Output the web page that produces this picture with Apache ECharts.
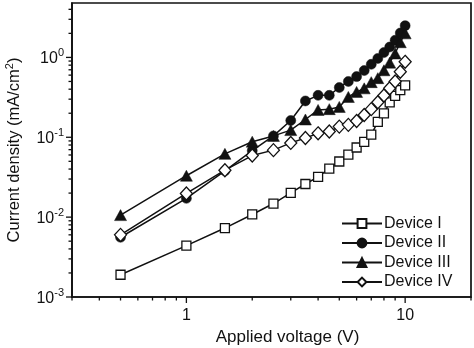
<!DOCTYPE html>
<html><head><meta charset="utf-8">
<script src="https://cdn.jsdelivr.net/npm/echarts@6/dist/echarts.min.js"></script>
<style>html,body{margin:0;padding:0;background:#fff}#c{width:474px;height:348px}</style>
</head><body><div id="c"></div>
<script>
const voltages = [0.5,1,1.5,2,2.5,3,3.5,4,4.5,5,5.5,6,6.5,7,7.5,8,8.5,9,9.5,10];
const deviceI   = [0.0019,0.0044,0.0073,0.0108,0.0148,0.0201,0.026,0.032,0.0406,0.0497,0.0608,0.0745,0.0875,0.108,0.156,0.199,0.273,0.33,0.389,0.446];
const deviceII  = [0.0056,0.0172,0.038,0.068,0.104,0.162,0.285,0.335,0.335,0.42,0.5,0.575,0.685,0.82,0.97,1.15,1.35,1.64,2.02,2.5];
const deviceIII = [0.0106,0.033,0.062,0.088,0.104,0.123,0.167,0.22,0.225,0.24,0.32,0.37,0.41,0.49,0.55,0.69,0.86,1.12,1.55,2.0];
const deviceIV  = [0.006,0.0198,0.0387,0.059,0.069,0.085,0.098,0.112,0.118,0.136,0.143,0.16,0.19,0.225,0.275,0.333,0.41,0.5,0.66,0.88];
const seriesNames = ['Device I','Device II','Device III','Device IV'];
const xTickValues = [0.3,0.4,0.5,0.6,0.7,0.8,0.9,1,2,3,4,5,6,7,8,9,10,20];
const yTickValues = [0.001,0.002,0.003,0.004,0.005,0.006,0.007,0.008,0.009,0.01,0.02,0.03,0.04,0.05,0.06,0.07,0.08,0.09,0.1,0.2,0.3,0.4,0.5,0.6,0.7,0.8,0.9,1,2,3,4];
const X_MIN = 0.3, X_MAX = 20, Y_MIN = 0.001, Y_MAX = 4.8;

const FONT = 'Liberation Sans, Arial, sans-serif';
const INK = '#111';
function isPow10(v){ const l = Math.log10(v); return Math.abs(l - Math.round(l)) < 1e-6; }

const chart = echarts.init(document.getElementById('c'), null, {renderer:'canvas'});
function pts(arr){ return voltages.map((v,i)=>[v, arr[i]]); }

const lineBase = {type:'line', showAllSymbol:true, lineStyle:{color:INK, width:1.5}, z:3};
const option = {
  animation:false,
  backgroundColor:'#fff',
  grid:{left:72, right:3, top:3, bottom:51, containLabel:false, outerBoundsMode:'none',
    show:true, borderColor:'#111', borderWidth:1.7, backgroundColor:'transparent'},
  legend:{
    data:seriesNames, orient:'vertical', left:336, top:210,
    itemWidth:40, itemHeight:11, itemGap:2.5,
    textStyle:{fontFamily:FONT, fontSize:16, color:INK, lineHeight:17, padding:[0,0,0,-3]}
  },
  xAxis:{
    type:'log', min:X_MIN, max:X_MAX, logBase:10,
    axisLine:{show:true, lineStyle:{color:'#111', width:1.7}},
    axisTick:{show:false}, splitLine:{show:false}, minorTick:{show:false},
    axisLabel:{margin:11, fontFamily:FONT, fontSize:16, color:INK,
      formatter:v=> isPow10(v) ? String(Math.round(v)) : ''},
    name:'Applied voltage (V)', nameLocation:'middle', nameGap:32,
    nameTextStyle:{fontFamily:FONT, fontSize:17, color:INK, padding:[0,0,0,32]}
  },
  yAxis:{
    type:'log', min:Y_MIN, max:Y_MAX, logBase:10,
    axisLine:{show:true, lineStyle:{color:'#111', width:1.7}},
    axisTick:{show:false}, splitLine:{show:false}, minorTick:{show:false},
    axisLabel:{margin:8, fontFamily:FONT, color:INK,
      formatter:v=> isPow10(v) ? '{b|10}{s|' + Math.round(Math.log10(v)) + '}' : '',
      rich:{b:{fontFamily:FONT, fontSize:16, color:INK, lineHeight:19, verticalAlign:'bottom'},
            s:{fontFamily:FONT, fontSize:11, color:INK, verticalAlign:'top', lineHeight:19}}},
    name:'{n|Current density (mA/cm}{s|2}{n|)}', nameLocation:'middle', nameGap:49,
    nameTextStyle:{rich:{n:{fontFamily:FONT, fontSize:16.5, color:INK, lineHeight:19, verticalAlign:'bottom'},
                         s:{fontFamily:FONT, fontSize:11, color:INK, verticalAlign:'top', lineHeight:19}}}
  },
  series:[
    Object.assign({}, lineBase, {name:'Device I', data:pts(deviceI), symbol:'rect', symbolSize:9,
      itemStyle:{color:'#fff', borderColor:INK, borderWidth:1.3}}),
    Object.assign({}, lineBase, {name:'Device II', data:pts(deviceII), symbol:'circle', symbolSize:10,
      itemStyle:{color:INK, borderColor:INK, borderWidth:0.5}}),
    Object.assign({}, lineBase, {name:'Device III', data:pts(deviceIII), symbol:'triangle', symbolSize:[12,11],
      itemStyle:{color:INK, borderColor:INK, borderWidth:0.5}}),
    Object.assign({}, lineBase, {name:'Device IV', data:pts(deviceIV), symbol:'diamond', symbolSize:[12,13],
      itemStyle:{color:'#fff', borderColor:INK, borderWidth:1.3}}),
    {type:'custom', name:'xticks', clip:false, silent:true, z:5,
      data:xTickValues.map(v=>[v, Y_MIN]),
      renderItem:(params, api)=>{
        const v = api.value(0); const p = api.coord([v, Y_MIN]);
        const len = isPow10(v) ? 6 : 3.5;
        return {type:'line', shape:{x1:p[0], y1:p[1], x2:p[0], y2:p[1]+len}, style:{stroke:'#111', lineWidth:1.3}};
      }},
    {type:'custom', name:'yticks', clip:false, silent:true, z:5,
      data:yTickValues.map(v=>[X_MIN, v]),
      renderItem:(params, api)=>{
        const v = api.value(1); const p = api.coord([X_MIN, v]);
        const len = isPow10(v) ? 6 : 3.5;
        return {type:'line', shape:{x1:p[0], y1:p[1], x2:p[0]-len, y2:p[1]}, style:{stroke:'#111', lineWidth:1.3}};
      }}
  ]
};
chart.setOption(option);
</script></body></html>
